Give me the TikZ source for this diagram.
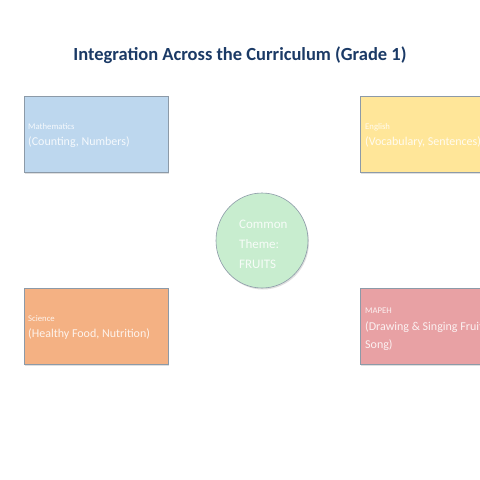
\documentclass[tikz,border=0pt]{standalone}
\usepackage{fontspec}
\setmainfont{Carlito}
\usetikzlibrary{shapes.geometric,shadows}
\definecolor{titlecol}{HTML}{1B3A66}
\definecolor{mathfill}{HTML}{BDD7EE}
\definecolor{engfill}{HTML}{FFE699}
\definecolor{scifill}{HTML}{F4B183}
\definecolor{mapfill}{HTML}{E8A1A4}
\definecolor{themefill}{HTML}{C8EDCF}
\definecolor{edgecol}{HTML}{8C9AA8}
\begin{document}
\begin{tikzpicture}[x=1pt,y=-1pt,
  subjbox/.style={draw=edgecol, line width=0.6pt, minimum width=144pt, minimum height=76pt, inner sep=0pt,
     drop shadow={shadow xshift=1pt, shadow yshift=-1.5pt, opacity=0.25}},
  small/.style={text=white, text opacity=0.85, font=\fontsize{8.7}{9}\selectfont, anchor=base west, inner sep=0pt},
  big/.style={text=white, text opacity=0.85, font=\fontsize{12}{18}\selectfont, anchor=base west, inner sep=0pt, align=left},
]
\useasboundingbox (0,0) rectangle (480,480);
\clip (0,0) rectangle (480,480);
\fill[white] (0,0) rectangle (480,480);
\node[text=titlecol, font=\bfseries\fontsize{18.5}{22}\selectfont, anchor=base] (title) at (240,60) {Integration Across the Curriculum (Grade 1)};

\node[subjbox, fill=mathfill] (math) at (96,134) {};
\node[small] (mathA) at (28,129) {Mathematics};
\node[big] (mathB) at (28,145) {(Counting, Numbers)};

\node[subjbox, fill=engfill, minimum width=160pt] (eng) at (440,134) {};
\node[small] (engA) at (365,129) {English};
\node[big] (engB) at (365,145) {(Vocabulary, Sentences)};

\node[subjbox, fill=scifill] (sci) at (96,326) {};
\node[small] (sciA) at (28,321) {Science};
\node[big] (sciB) at (28,337) {(Healthy Food, Nutrition)};

\node[subjbox, fill=mapfill, minimum width=160pt] (map) at (440,326) {};
\node[small] (mapA) at (365,313) {MAPEH};
\node[big] (mapB) at (365,348) {(Drawing \& Singing Fruit\\Song)};

\node[ellipse, draw=edgecol, line width=0.6pt, fill=themefill, minimum width=92pt, minimum height=95pt, inner sep=0pt,
  drop shadow={shadow xshift=1pt, shadow yshift=-1.5pt, opacity=0.25}] (theme) at (262,240.5) {};
\node[big, font=\fontsize{13}{20}\selectfont] (themeT) at (239,268) {Common\\Theme:\\FRUITS};
\end{tikzpicture}
\end{document}
